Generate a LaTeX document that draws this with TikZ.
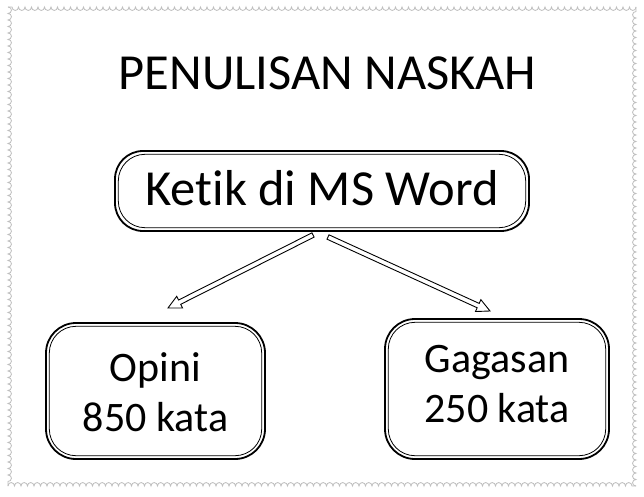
\documentclass[tikz,border=0pt]{standalone}
\usepackage{fontspec}
\setmainfont{Carlito}[Ligatures={NoCommon,NoContextual}]
\usetikzlibrary{calc,decorations.pathmorphing}
\definecolor{stampgray}{HTML}{BEBEBE}
\newcommand\myharrow[2]{%
  \coordinate (hh) at ($(#2)!13pt!(#1)$);
  \draw[arrowline]
    ($(#1)!2.4pt!90:(#2)$) -- ($(hh)!2.4pt!90:(#2)$) -- ($(hh)!6.5pt!90:(#2)$) --
    (#2) -- ($(hh)!6.5pt!-90:(#2)$) -- ($(hh)!2.4pt!-90:(#2)$) --
    ($(#1)!2.4pt!-90:(#2)$) -- cycle;}
\begin{document}
\begin{tikzpicture}[x=1pt,y=1pt,
  outerbox/.style={draw, line width=1.8pt, outer sep=0pt, inner sep=0pt},
  innerline/.style={draw, line width=0.8pt},
  arrowline/.style={draw, line width=0.9pt, line join=miter, fill=white},
  stampedge/.style={draw=stampgray, line width=0.8pt, decorate,
    decoration={bumps, segment length=13pt, amplitude=3.5pt}},
  big/.style={font=\fontsize{50.5}{60}\selectfont},
  mid/.style={font=\fontsize{42}{49.5}\selectfont, align=center}]
\useasboundingbox (0,0) rectangle (644,496);
\fill[white] (0,0) rectangle (644,496);
% stamp border
\coordinate (c1) at (8,10);
\coordinate (c2) at (636,10);
\coordinate (c3) at (636,489);
\coordinate (c4) at (8,489);
\draw[stampedge] (c1) -- (c2);
\draw[stampedge] (c2) -- (c3);
\draw[stampedge] (c3) -- (c4);
\draw[stampedge] (c4) -- (c1);
% title
\node[big, anchor=base] (title) at (327.5,406) {PENULISAN NASKAH};
% boxes
\node[outerbox, big, rounded corners=28pt, minimum width=414pt, minimum height=80pt,
      text height=28pt, text depth=0pt] (ketik) at (322,305) {Ketik di MS Word};
\node[outerbox, mid, rounded corners=30pt, minimum width=219pt, minimum height=136pt,
      text height=80pt, text depth=0pt] (opini) at (155.5,105) {Opini\\850 kata};
\node[outerbox, mid, rounded corners=30pt, minimum width=224pt, minimum height=140pt,
      text height=66pt, text depth=0pt] (gagasan) at (497,107) {Gagasan\\250 kata};
\draw[innerline, rounded corners=26.7pt] ([shift={(3.3pt,-3.3pt)}]ketik.north west) rectangle ([shift={(-3.3pt,3.3pt)}]ketik.south east);
\draw[innerline, rounded corners=26.7pt] ([shift={(3.3pt,-3.3pt)}]opini.north west) rectangle ([shift={(-3.3pt,3.3pt)}]opini.south east);
\draw[innerline, rounded corners=26.7pt] ([shift={(3.3pt,-3.3pt)}]gagasan.north west) rectangle ([shift={(-3.3pt,3.3pt)}]gagasan.south east);
% arrows
\coordinate (lstart) at (313,261);
\coordinate (ltip) at (168,188);
\coordinate (rstart) at (328,259);
\coordinate (rtip) at (490,185);
\myharrow{lstart}{ltip}
\myharrow{rstart}{rtip}
\end{tikzpicture}
\end{document}
